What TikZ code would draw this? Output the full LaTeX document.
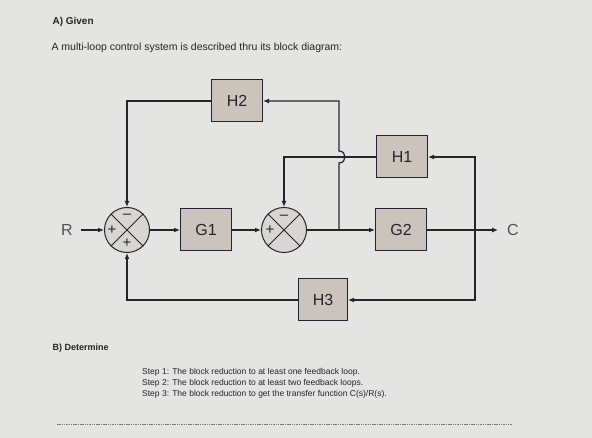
\documentclass[tikz,border=0pt]{standalone}
\usepackage{fontspec}
\setmainfont{Liberation Sans}
\usetikzlibrary{arrows.meta,calc}

\definecolor{paper}{HTML}{E4E4E2}
\definecolor{boxfill}{HTML}{CBC4BD}
\definecolor{sumfill}{HTML}{D9D5D1}
\definecolor{ink}{HTML}{24242E}

\begin{document}
\begin{tikzpicture}[x=1pt,y=-1pt]
        \tikzstyle{every node}=[font=\fontsize{16}{18}\selectfont, text=ink]
        \tikzstyle{block}=[draw=ink, line width=1pt, fill=boxfill, minimum width=51pt, minimum height=42pt, inner sep=0pt]
        \tikzstyle{sumnode}=[draw=ink, line width=1pt, fill=sumfill, circle, minimum size=45pt, inner sep=0pt]
        \tikzstyle{sign}=[font=\fontsize{15}{15}\selectfont, inner sep=0pt]
        \tikzstyle{flow}=[draw=ink, line width=1.2pt, -{Latex[length=6pt,width=5pt]}]

        \fill[paper] (0,0) rectangle (592,438);
        \useasboundingbox (0,0) rectangle (592,438);

        \node[anchor=west, font=\bfseries\fontsize{10}{12}\selectfont] (given) at (49,22) {A) Given};
        \node[anchor=west, font=\fontsize{10.5}{12}\selectfont] (intro) at (48,48) {A multi-loop control system is described thru its block diagram:};

        \node[block] (H2) at (237,101) {H2};
        \node[block] (H1) at (402,157) {H1};
        \node[block] (G1) at (206,230) {G1};
        \node[block] (G2) at (401,230) {G2};
        \node[block, minimum width=49pt] (H3) at (323,300) {H3};
        \node[sumnode] (s1) at (127,230) {};
        \node[sumnode] (s2) at (284,230) {};
        \draw[ink, line width=1pt] (s1.north west) -- (s1.south east) (s1.north east) -- (s1.south west);
        \draw[ink, line width=1pt] (s2.north west) -- (s2.south east) (s2.north east) -- (s2.south west);
        \node[sign] at ($(s1.center)+(-15,0)$) {+};
        \node[sign] at ($(s1.center)+(0,-14)$) {--};
        \node[sign] at ($(s1.center)+(0,13)$) {+};
        \node[sign] at ($(s2.center)+(-14,0)$) {+};
        \node[sign] at ($(s2.center)+(0,-13)$) {--};

        \node[text=ink!80, inner xsep=8pt] (R) at (67,230) {R};
        \node[text=ink!80, inner xsep=9pt] (C) at (513,230) {C};
        \coordinate (b1) at (339,230);
        \coordinate (b2) at (475,230);
        \coordinate (hop) at (339,157);

        \draw[flow] (R) -- (s1);
        \draw[flow] (s1) -- (G1);
        \draw[flow] (G1) -- (s2);
        \draw[flow] (s2) -- (G2);
        \draw[flow] (G2) -- (C);
        \draw[flow] (b2) |- (H1);
        \draw[flow] (b2) |- (H3);
        \draw[flow] (H3) -| (s1);
        \draw[flow] (H1) -| (s2);
        \draw[flow] (H2) -| (s1);
        \draw[flow] (b1) -- ($(hop)+(0,6)$) .. controls +(8,0) and +(8,0) .. ($(hop)+(0,-6)$) |- (H2);

        \node[anchor=west, font=\bfseries\fontsize{9}{11}\selectfont] (det) at (49,348) {B) Determine};
        \node[anchor=north west, align=left, inner sep=0pt, font=\fontsize{8.5}{11}\selectfont] (steps) at (142,368) {Step 1: The block reduction to at least one feedback loop.\\Step 2: The block reduction to at least two feedback loops.\\Step 3: The block reduction to get the transfer function C(s)/R(s).};
        \draw[ink!60, dash pattern=on 1.5pt off 0.8pt] (57,424) -- (512,424);
\end{tikzpicture}
\end{document}
